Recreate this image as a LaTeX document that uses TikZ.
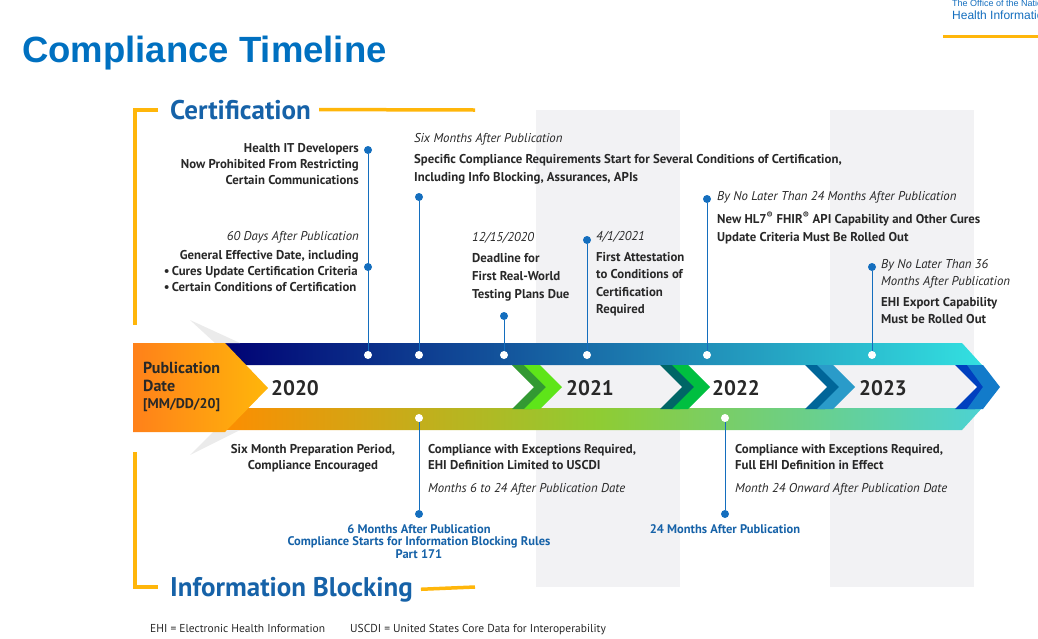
\documentclass[tikz,border=0pt]{standalone}
\usepackage{fontspec}
\setmainfont{PT Sans}
\newfontfamily\arialfont{Liberation Sans}
\usetikzlibrary{positioning}
\definecolor{TitleBlue}{RGB}{0,112,192}
\definecolor{CertBlue}{RGB}{22,98,168}
\definecolor{StemBlue}{RGB}{20,110,190}
\definecolor{Gold}{RGB}{255,182,10}
\definecolor{ColGray}{RGB}{242,242,244}
\definecolor{TextGray}{RGB}{40,40,40}

\tikzset{
  dotw/.style={circle,fill=white,inner sep=0pt,minimum size=8pt},
  dotb/.style={circle,fill=StemBlue,inner sep=0pt,minimum size=8pt},
  stem/.style={StemBlue,line width=1pt},
  txt/.style={inner sep=0pt,text=TextGray,font=\fontsize{12.8}{16}\selectfont\bfseries},
  itl/.style={inner sep=0pt,text=TextGray,font=\fontsize{12.8}{16}\selectfont\itshape},
  blu/.style={inner sep=0pt,text=CertBlue,font=\fontsize{12.5}{12.5}\selectfont\bfseries,align=center},
  year/.style={inner sep=0pt,text=TextGray,font=\fontsize{21}{22}\selectfont\bfseries},
  head/.style={inner sep=0pt,text=CertBlue,font=\fontsize{27}{28}\selectfont\bfseries},
  rule/.style={Gold,line width=3.5pt}
}

\begin{document}
\begin{tikzpicture}[x=1pt,y=-1pt]
\useasboundingbox (0,0) rectangle (1038,638);
% background columns
\fill[ColGray] (536,110) rectangle (680,587);
\fill[ColGray] (830,110) rectangle (974,587);
% title and logo
\node[anchor=base west,inner sep=0pt,text=TitleBlue,font=\arialfont\fontsize{36.5}{38}\selectfont\bfseries] (title) at (22,62) {Compliance Timeline};
\begin{scope}
\clip (940,0) rectangle (1038,30);
\node[anchor=base west,inner sep=0pt,text=StemBlue,font=\arialfont\fontsize{9}{9}\selectfont] (logo1) at (952,6) {The Office of the Natio};
\node[anchor=base west,inner sep=0pt,text=StemBlue,font=\arialfont\fontsize{12}{12}\selectfont] (logo2) at (952,19) {Health Informatic};
\end{scope}
\draw[rule,line width=3pt] (943,36) -- (1038,36);
% brackets
\draw[rule] (158,110) -- (135,110) -- (135,325);
\draw[rule] (135,452) -- (135,587) -- (158,587);
\node[head,anchor=base west] (cert) at (170,119) {Certification};
\draw[rule] (cert.east) ++(8,0) -- (475,110);
\node[head,anchor=base west] (ib) at (170,596) {Information Blocking};
\draw[rule] (ib.east) ++(8,0) -- (475,587);
% bands
\shade[left color=blue!45!black,right color=cyan!70!teal!80,shading angle=90]
  (215,343) -- (962,343) -- (982,365) -- (215,365) -- cycle;
\shade[left color=orange!90!yellow,right color=cyan!50!teal!70,middle color=yellow!60!green!60!gray]
  (215,408) -- (982,408) -- (962,430) -- (215,430) -- cycle;
% chevrons
\fill[green!50!black!80] (512,365) -- (532,365) -- (554,387) -- (532,409) -- (512,409) -- (534,387) -- cycle;
\fill[green!55!lime!80!gray] (524,365) -- (540,365) -- (562,387) -- (540,409) -- (524,409) -- (546,387) -- cycle;
\fill[teal!80!black] (660,365) -- (680,365) -- (702,387) -- (680,409) -- (660,409) -- (682,387) -- cycle;
\fill[teal!50!green] (672,365) -- (688,365) -- (710,387) -- (688,409) -- (672,409) -- (694,387) -- cycle;
\fill[teal!80!blue] (805,365) -- (825,365) -- (847,387) -- (825,409) -- (805,409) -- (827,387) -- cycle;
\fill[cyan!60!teal] (817,365) -- (833,365) -- (855,387) -- (833,409) -- (817,409) -- (839,387) -- cycle;
\fill[blue!50!teal] (955,365) -- (975,365) -- (997,387) -- (975,409) -- (955,409) -- (977,387) -- cycle;
\fill[cyan!60!blue] (967,365) -- (983,365) -- (1000,387) -- (983,409) -- (967,409) -- (983,387) -- cycle;
% publication arrow
\fill[black!8] (190,320) -- (240,343) -- (215,343) -- cycle;
\fill[black!8] (190,455) -- (240,430) -- (215,430) -- cycle;
\shade[left color=orange!90!red!90,right color=Gold]
  (133,343) -- (225,343) -- (268,388) -- (225,432) -- (133,432) -- cycle;
\node[txt,anchor=north west,font=\fontsize{16}{18}\selectfont\bfseries,align=left] (pub) at (143,362) {Publication\\Date\\[-1pt]{\fontsize{14}{16}\selectfont[MM/DD/20]}};
% years
\node[year,anchor=base west] (y0) at (271,395) {2020};
\node[year,anchor=base west] (y1) at (566,395) {2021};
\node[year,anchor=base west] (y2) at (712,395) {2022};
\node[year,anchor=base west] (y3) at (859,395) {2023};
% dots on the bands
\foreach \n/\x in {a/368,b/419,c/504,d/587,e/707,f/872}
  \node[dotw] (t\n) at (\x,355) {};
\node[dotw] (la) at (419,418) {};
\node[dotw] (lb) at (725,418) {};
% certification milestones
\node[dotb] (ca) at (368,150) {};
\node[dotb] (ca2) at (368,267) {};
\node[dotb] (cb) at (419,197) {};
\node[dotb] (cc) at (504,316) {};
\node[dotb] (cd) at (587,240) {};
\node[dotb] (ce) at (707,199) {};
\node[dotb] (cf) at (872,267) {};
\draw[stem] (ca) -- (ta);
\draw[stem] (cb) -- (tb);
\draw[stem] (cc) -- (tc);
\draw[stem] (cd) -- (td);
\draw[stem] (ce) -- (te);
\draw[stem] (cf) -- (tf);
% information blocking milestones
\node[dotb] (ia) at (419,514) {};
\node[dotb] (ib2) at (725,514) {};
\draw[stem] (la) -- (ia);
\draw[stem] (lb) -- (ib2);
% certification texts
\node[txt,anchor=north east,align=right] (ha) at (359,143) {Health IT Developers\\Now Prohibited From Restricting\\Certain Communications};
\node[itl,anchor=north east] (hb0) at (359,231) {60 Days After Publication};
\node[txt,anchor=north east,align=left] (hb) at (359,250) {\hspace{16pt}General Effective Date, including\\\textbullet\,Cures Update Certification Criteria\\\textbullet\,Certain Conditions of Certification};
\node[itl,anchor=north west] (hc0) at (414,133) {Six Months After Publication};
\node[txt,anchor=north west,align=left,font=\fontsize{12.8}{18}\selectfont\bfseries] (hc) at (414,154) {Specific Compliance Requirements Start for Several Conditions of Certification,\\Including Info Blocking, Assurances, APIs};
\node[itl,anchor=north west] (hd0) at (472,232) {12/15/2020};
\node[txt,anchor=north west,align=left,font=\fontsize{12.8}{18}\selectfont\bfseries] (hd) at (472,253) {Deadline for\\First Real-World\\Testing Plans Due};
\node[itl,anchor=north west] (he0) at (596,231) {4/1/2021};
\node[txt,anchor=north west,align=left,font=\fontsize{12.8}{17.5}\selectfont\bfseries] (he) at (596,252) {First Attestation\\to Conditions of\\Certification\\Required};
\node[itl,anchor=north west] (hf0) at (717,191) {By No Later Than 24 Months After Publication};
\node[txt,anchor=north west,align=left,font=\fontsize{12.8}{18}\selectfont\bfseries] (hf) at (717,212) {New HL7\textsuperscript{®} FHIR\textsuperscript{®} API Capability and Other Cures\\Update Criteria Must Be Rolled Out};
\node[itl,anchor=north west,align=left,font=\fontsize{12.8}{17}\selectfont\itshape] (hg0) at (881,259) {By No Later Than 36\\Months After Publication};
\node[txt,anchor=north west,align=left,font=\fontsize{12.8}{17}\selectfont\bfseries] (hg) at (881,297) {EHI Export Capability\\Must be Rolled Out};
% information blocking texts
\node[txt,anchor=north,align=center,font=\fontsize{12.8}{16.5}\selectfont\bfseries] (ba) at (313,444) {Six Month Preparation Period,\\Compliance Encouraged};
\node[txt,anchor=north west,align=left,font=\fontsize{12.8}{16.5}\selectfont\bfseries] (bb) at (428,444) {Compliance with Exceptions Required,\\EHI Definition Limited to USCDI};
\node[itl,anchor=north west] (bb1) at (428,483) {Months 6 to 24 After Publication Date};
\node[txt,anchor=north west,align=left,font=\fontsize{12.8}{16.5}\selectfont\bfseries] (bc) at (735,444) {Compliance with Exceptions Required,\\Full EHI Definition in Effect};
\node[itl,anchor=north west] (bc1) at (735,483) {Month 24 Onward After Publication Date};
\node[blu,anchor=north] (bd) at (419,524) {6 Months After Publication\\Compliance Starts for Information Blocking Rules\\Part 171};
\node[blu,anchor=north] (be) at (725,524) {24 Months After Publication};
% footnote
\node[anchor=base west,inner sep=0pt,text=TextGray,font=\fontsize{11.5}{12}\selectfont] (fa) at (150,632) {EHI = Electronic Health Information};
\node[anchor=base west,inner sep=0pt,text=TextGray,font=\fontsize{11.5}{12}\selectfont] (fb) at (350,632) {USCDI = United States Core Data for Interoperability};
\end{tikzpicture}
\end{document}
